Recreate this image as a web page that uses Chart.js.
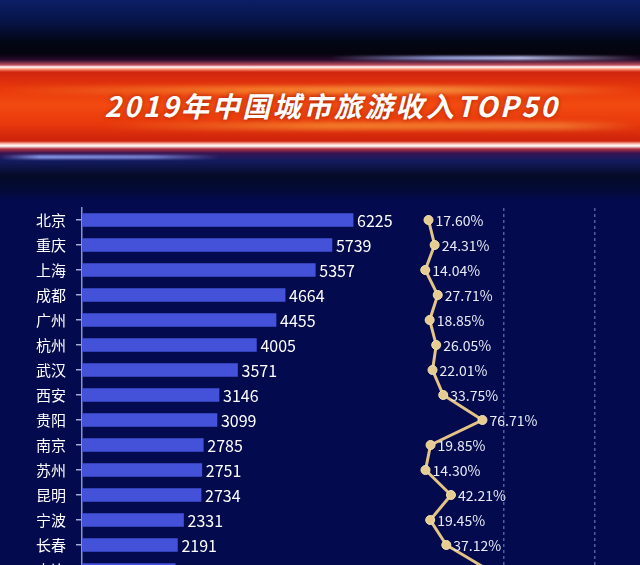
<!DOCTYPE html>
<html>
<head>
<meta charset="utf-8">
<script src="https://cdn.jsdelivr.net/npm/chart.js@4"></script>
<style>
  html, body { margin: 0; padding: 0; }
  body { width: 640px; height: 565px; overflow: hidden; background: #030a4e; position: relative; font-family: "Noto Sans CJK SC", "Noto Sans", sans-serif; }
  #banner {
    position: absolute; left: 0; top: 0; width: 640px; height: 200px;
    background: linear-gradient(to bottom,
      #0c1f66 0px, #07154a 20px, #020615 42px, #05040f 54px, #2a0c2c 60px,
      #c05060 65px, #ffffff 67px, #ff9a7a 69px, #d0240e 72px, #e8380c 88px,
      #f24a10 105px, #e8380c 124px, #cc220c 141px, #ffc8b8 144px, #ffffff 146px,
      #b03040 149px, #3a1450 153px, #141c62 160px, #040a26 176px, #030a3a 192px, #030a4e 200px);
  }
  .glow { position: absolute; left: 0; width: 640px; }
  #glowA { top: 86px; height: 8px; background: linear-gradient(to right, rgba(255,200,80,0) 0px, rgba(255,190,70,0.5) 260px, rgba(255,200,90,0.6) 420px, rgba(255,200,80,0) 640px); filter: blur(2px); }
  #glowB { top: 122px; height: 8px; background: linear-gradient(to right, rgba(255,200,80,0) 100px, rgba(255,190,70,0.5) 330px, rgba(255,200,90,0.4) 560px, rgba(255,200,80,0) 640px); filter: blur(2px); }
  #streakTop { top: 56px; height: 4px; background: linear-gradient(to right, rgba(120,140,255,0) 330px, rgba(170,190,255,0.8) 440px, rgba(200,210,255,0.9) 520px, rgba(120,140,255,0) 640px); filter: blur(1px); }
  #streakBot { top: 155px; height: 4px; background: linear-gradient(to right, rgba(120,140,255,0) 0px, rgba(150,170,255,0.85) 40px, rgba(150,170,255,0.7) 150px, rgba(120,140,255,0) 220px); filter: blur(1px); }
  #title {
    position: absolute; left: 0; top: 85px; width: 640px; padding-left: 24px; box-sizing: border-box;
    text-align: center; color: #fff; font-size: 28px; font-weight: bold; font-style: italic; letter-spacing: 2.6px;
    line-height: 40px; text-shadow: 0 0 4px rgba(120,20,0,0.6);
  }
  #wrap { position: absolute; left: 0; top: 202px; width: 640px; height: 386px; }
</style>
</head>
<body>
<div id="banner"></div>
<div class="glow" id="glowA"></div>
<div class="glow" id="glowB"></div>
<div class="glow" id="streakTop"></div>
<div class="glow" id="streakBot"></div>
<div id="title">2019年中国城市旅游收入TOP50</div>
<div id="wrap"><canvas id="chart"></canvas></div>
<script>
// city list, tourism revenue (亿元) and growth (%)
const cities  = ['北京', '重庆', '上海', '成都', '广州', '杭州', '武汉', '西安', '贵阳', '南京', '苏州', '昆明', '宁波', '长春', '大连'];
const revenue = [6225, 5739, 5357, 4664, 4455, 4005, 3571, 3146, 3099, 2785, 2751, 2734, 2331, 2191, 2140];
const growth  = [17.60, 24.31, 14.04, 27.71, 18.85, 26.05, 22.01, 33.75, 76.71, 19.85, 14.30, 42.21, 19.45, 37.12, 83.16];
const growthGrid = [100, 200];

const FONT = '"Noto Sans CJK SC", "Noto Sans", sans-serif';

const labelPlugin = {
  id: 'valueLabels',
  afterDatasetsDraw(chart) {
    const ctx = chart.ctx;
    ctx.save();
    ctx.fillStyle = '#ffffff';
    ctx.textAlign = 'left';
    ctx.textBaseline = 'middle';
    ctx.font = '16px ' + FONT;
    chart.getDatasetMeta(0).data.forEach((bar, i) => {
      ctx.fillText(String(revenue[i]), bar.x + 4, bar.y + 1);
    });
    ctx.fillStyle = '#e8eaf6';
    ctx.font = '14px ' + FONT;
    chart.getDatasetMeta(1).data.forEach((pt, i) => {
      ctx.fillText(growth[i].toFixed(2) + '%', pt.x + 7, pt.y + 1);
    });
    ctx.restore();
  }
};

new Chart(document.getElementById('chart'), {
  type: 'bar',
  data: {
    labels: cities,
    datasets: [
      {
        label: '旅游收入',
        data: revenue,
        xAxisID: 'x',
        backgroundColor: '#4352d8',
        barThickness: 13,
        order: 1
      },
      {
        type: 'line',
        label: '增速',
        data: growth,
        xAxisID: 'x2',
        borderColor: '#e3c485',
        borderWidth: 3,
        pointRadius: 4.5,
        pointBackgroundColor: '#e6cc8e',
        pointBorderColor: '#f5e3b5',
        pointBorderWidth: 1,
        tension: 0,
        order: 0
      }
    ]
  },
  options: {
    indexAxis: 'y',
    responsive: true,
    maintainAspectRatio: false,
    animation: false,
    layout: { padding: { left: 0, right: 45, top: 0, bottom: 0 } },
    plugins: { legend: { display: false }, tooltip: { enabled: false } },
    scales: {
      y: {
        afterFit: s => { s.width = 82; s.paddingTop = 0; s.paddingBottom = 0; },
        grid: { display: true, offset: false, drawOnChartArea: false, drawTicks: true, color: '#a3abd6', tickLength: 6, lineWidth: 1.5 },
        border: { display: true, color: '#8a93c4', width: 1.5 },
        ticks: { color: '#ffffff', font: { family: FONT, size: 15 }, padding: 10 }
      },
      x: {
        display: false,
        min: 0,
        max: 11780
      },
      x2: {
        position: 'top',
        min: -362,
        max: 200,
        afterBuildTicks: axis => { axis.ticks = growthGrid.map(v => ({ value: v })); },
        afterFit: s => { s.height = 0; s.paddingLeft = 0; s.paddingRight = 0; },
        ticks: { display: false },
        grid: { drawTicks: false, color: 'rgba(140,150,205,0.6)', lineWidth: 1.5 },
        border: { display: false, dash: [3, 3] }
      }
    }
  },
  plugins: [labelPlugin]
});
</script>
</body>
</html>
